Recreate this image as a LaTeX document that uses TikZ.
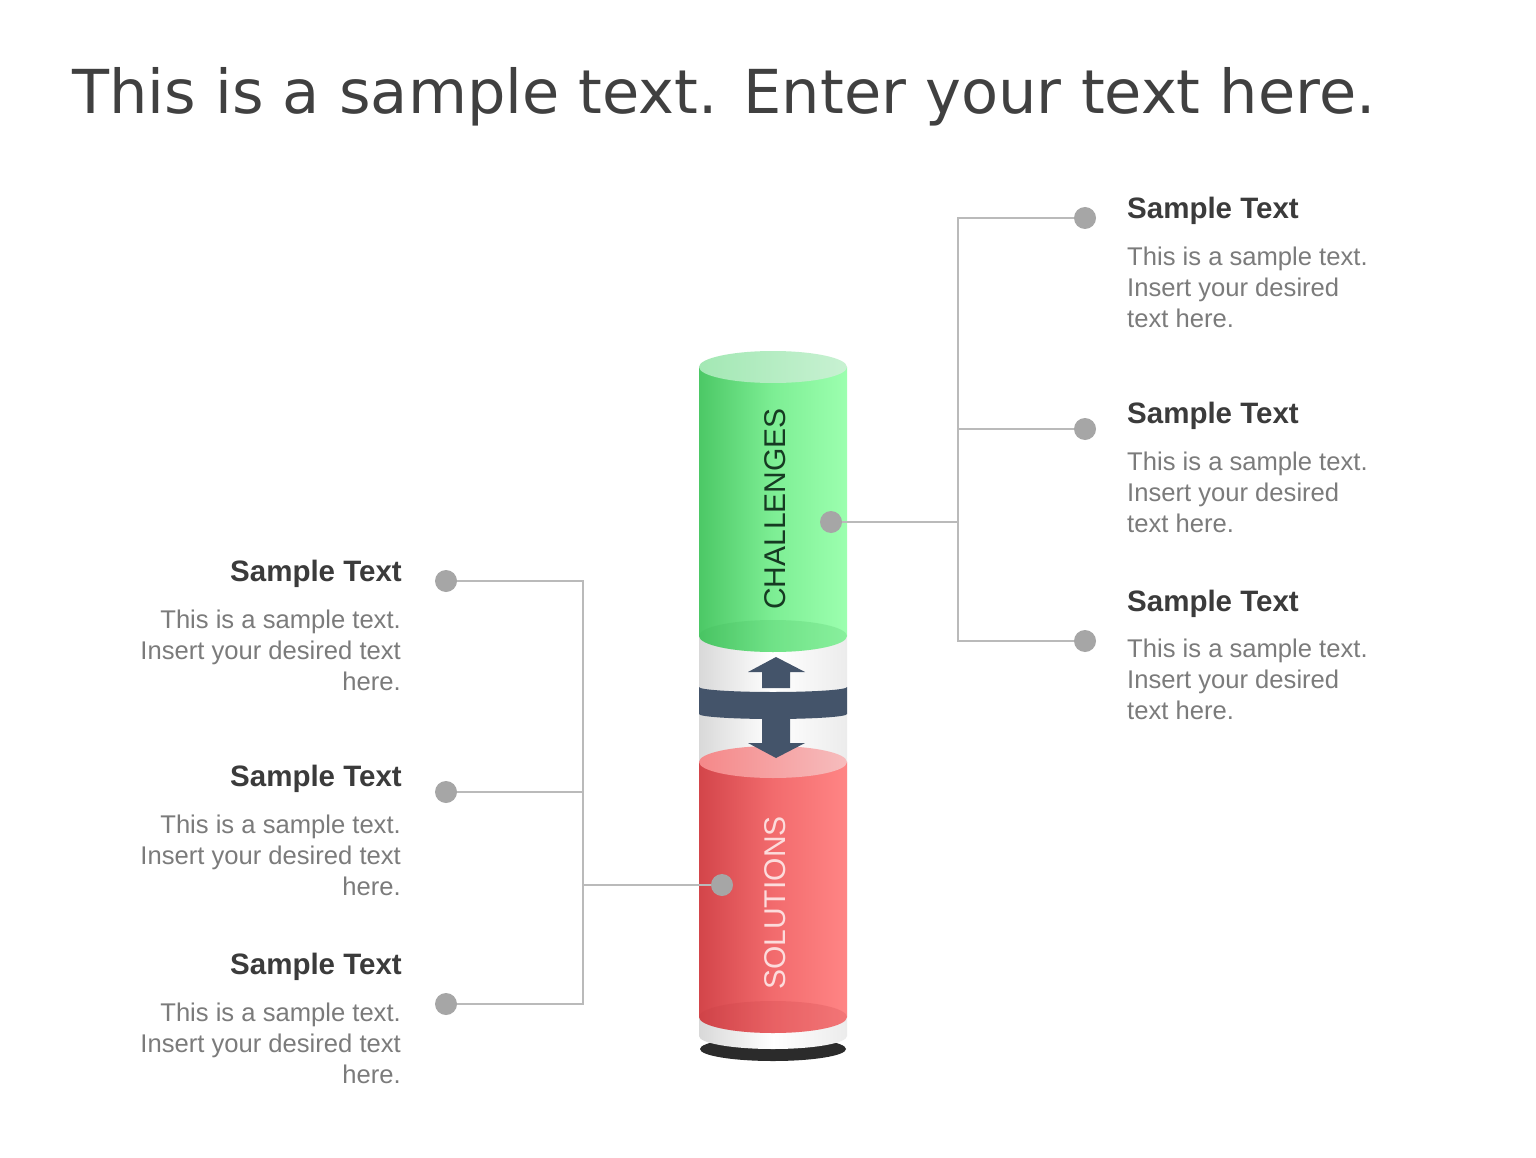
\documentclass[tikz,border=0pt]{standalone}
\usepackage{fontspec}
\setmainfont{Liberation Sans}
\newfontfamily\headfont{DejaVu Sans}
\usepackage{tikz}

\definecolor{titlegray}{HTML}{404040}
\definecolor{headgray}{HTML}{3B3B3B}
\definecolor{bodygray}{HTML}{7B7B7B}
\definecolor{dotgray}{HTML}{A6A6A6}
\definecolor{linegray}{HTML}{BABABA}
\definecolor{navy}{HTML}{44546A}
\definecolor{darkbase}{HTML}{2B2B2B}
\definecolor{greenL}{HTML}{4CC866}
\definecolor{greenM}{HTML}{7DEE94}
\definecolor{greenR}{HTML}{9CFFAF}
\definecolor{greenD}{HTML}{3DB557}
\definecolor{greenTop}{HTML}{A3E8B4}
\definecolor{redL}{HTML}{D3454A}
\definecolor{redM}{HTML}{F26B6D}
\definecolor{redR}{HTML}{FF8585}
\definecolor{redD}{HTML}{C23A40}
\definecolor{redTop}{HTML}{F3A0A1}
\definecolor{chaltext}{HTML}{163A22}
\definecolor{soltext}{HTML}{FCDCDC}

\begin{document}
\begin{tikzpicture}[x=1pt,y=-1pt,
  conn/.style={draw=linegray,line width=1.3pt},
  bullet/.style={circle,fill=dotgray,minimum size=22pt,inner sep=0pt},
  heading/.style={font=\fontsize{29.5}{34}\selectfont\bfseries,text=headgray,inner sep=0pt},
  body/.style={font=\fontsize{25.6}{31}\selectfont,text=bodygray,inner sep=0pt},
  cyltext/.style={font=\fontsize{30}{36}\selectfont,rotate=90,inner sep=0pt}]
  \useasboundingbox (0,0) rectangle (1536,1158);
  \fill[white] (0,0) rectangle (1536,1158);
  \node(title)[anchor=base west,inner sep=0pt,font=\headfont\fontsize{60.6}{72}\selectfont,text=titlegray] at (72,114) {This is a sample text. Enter your text here.};

  \fill[darkbase] (773,1049) ellipse[x radius=73,y radius=12];
  \shade[left color=gray!30,right color=gray!15,middle color=white] (699,636) -- (699,1036) arc[start angle=180,end angle=0,x radius=74,y radius=13] -- (847,636) -- cycle;
  \fill[navy] (699,687) arc[start angle=180,end angle=0,x radius=74,y radius=5] -- (847,714) arc[start angle=0,end angle=180,x radius=74,y radius=5] -- cycle;

  \shade[left color=redL,right color=redR,middle color=redM] (699,762) -- (699,1017) arc[start angle=180,end angle=0,x radius=74,y radius=16] -- (847,762) -- cycle;
  \fill[redD,opacity=.2] (773,1017) ellipse[x radius=74,y radius=16];
  \shade[left color=redTop!85!red,right color=redTop!70!white] (773,762) ellipse[x radius=74,y radius=16];

  \shade[left color=greenL,right color=greenR,middle color=greenM] (699,367) -- (699,636) arc[start angle=180,end angle=0,x radius=74,y radius=16] -- (847,367) -- cycle;
  \fill[greenD,opacity=.2] (773,636) ellipse[x radius=74,y radius=16];
  \shade[left color=greenTop,right color=greenTop!60!white] (773,367) ellipse[x radius=74,y radius=16];

  \fill[navy] (776,657) -- (805,672) -- (790,672) -- (790,688) -- (762,688) -- (762,672) -- (748,672) -- cycle;
  \fill[navy] (762,718) -- (790,718) -- (790,743) -- (805,743) -- (776,758) -- (748,743) -- (762,743) -- cycle;

  \node(chal)[cyltext,text=chaltext] at (775,509) {CHALLENGES};
  \node(sol)[cyltext,text=soltext] at (775,903) {SOLUTIONS};

  \node(gdot)[bullet] at (831,522) {};
  \node(rdot)[bullet] at (722,885) {};
  \node(r1)[bullet] at (1085,218) {};
  \node(r2)[bullet] at (1085,429) {};
  \node(r3)[bullet] at (1085,641) {};
  \node(l1)[bullet] at (446,581) {};
  \node(l2)[bullet] at (446,792) {};
  \node(l3)[bullet] at (446,1004) {};
  \coordinate(rj) at (958,522);
  \coordinate(lj) at (583,885);

  \draw[conn] (gdot) -- (rj);
  \draw[conn] (r1) -| (rj);
  \draw[conn] (r2) -| (rj);
  \draw[conn] (r3) -| (rj);
  \draw[conn] (rdot) -- (lj);
  \draw[conn] (l1) -| (lj);
  \draw[conn] (l2) -| (lj);
  \draw[conn] (l3) -| (lj);

  \node(rh1)[heading,anchor=base west] at (1127,219) {Sample Text};
  \node(rb1)[body,anchor=north west,align=left] at (1127,246.5) {This is a sample text.\\Insert your desired\\text here.};
  \node(rh2)[heading,anchor=base west] at (1127,423) {Sample Text};
  \node(rb2)[body,anchor=north west,align=left] at (1127,451.5) {This is a sample text.\\Insert your desired\\text here.};
  \node(rh3)[heading,anchor=base west] at (1127,611) {Sample Text};
  \node(rb3)[body,anchor=north west,align=left] at (1127,638.5) {This is a sample text.\\Insert your desired\\text here.};

  \node(lh1)[heading,anchor=base east] at (402,581) {Sample Text};
  \node(lb1)[body,anchor=north east,align=right] at (401,609.5) {This is a sample text.\\Insert your desired text\\here.};
  \node(lh2)[heading,anchor=base east] at (402,786) {Sample Text};
  \node(lb2)[body,anchor=north east,align=right] at (401,814.5) {This is a sample text.\\Insert your desired text\\here.};
  \node(lh3)[heading,anchor=base east] at (402,974) {Sample Text};
  \node(lb3)[body,anchor=north east,align=right] at (401,1002.5) {This is a sample text.\\Insert your desired text\\here.};
\end{tikzpicture}
\end{document}
